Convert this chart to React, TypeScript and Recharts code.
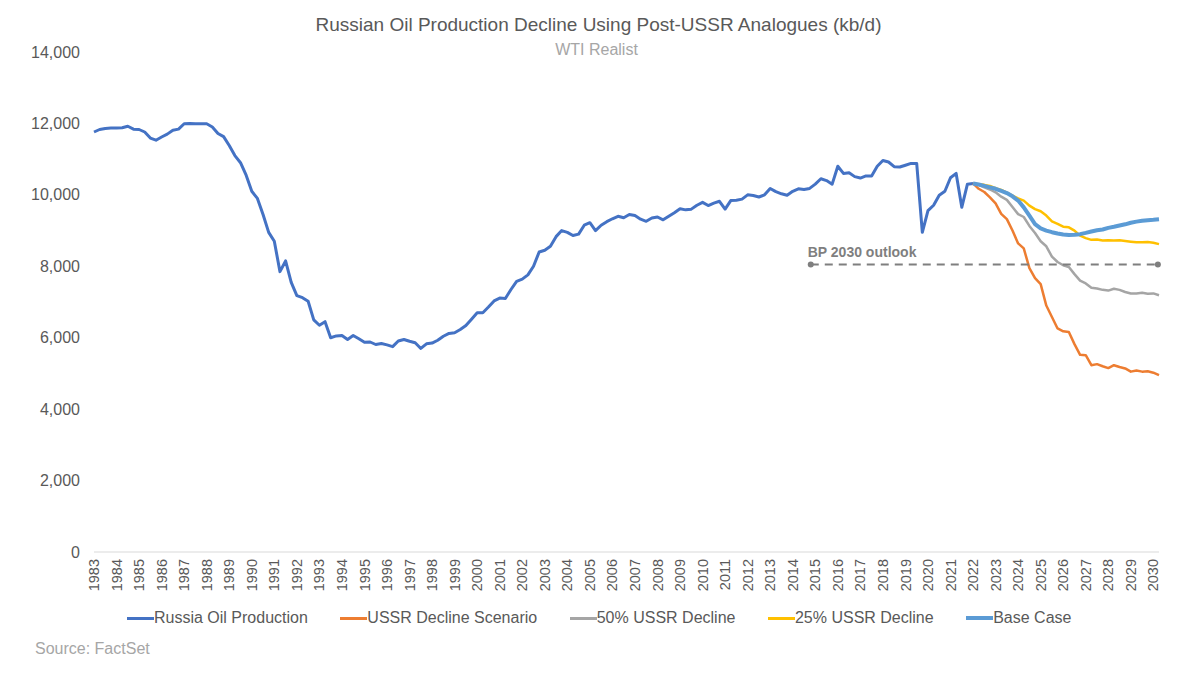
import React from "react";
import { LineChart, Line, XAxis, YAxis, LabelList } from "recharts";

// quarterly readings, kb/d
const russiaStart = 1983;
const scenarioStart = 2022;
const step = 0.25;

const russiaProduction = [
  11760, 11830, 11860, 11870, 11870, 11880, 11920, 11840, 11830, 11760, 11590, 11530,
  11620, 11700, 11810, 11840, 11990, 12000, 11990, 11990, 11990, 11900, 11720, 11630,
  11380, 11100, 10900, 10550, 10100, 9900, 9450, 8950, 8700, 7850, 8150, 7550,
  7180, 7120, 7020, 6500, 6350, 6450, 6000, 6050, 6060, 5950, 6060, 5970,
  5870, 5880, 5810, 5840, 5800, 5750, 5910, 5950, 5900, 5860, 5700, 5830,
  5850, 5930, 6040, 6120, 6140, 6230, 6340, 6520, 6700, 6700, 6860, 7030,
  7110, 7100, 7350, 7580, 7640, 7760, 8000, 8400, 8450, 8560, 8830, 9000,
  8950, 8860, 8900, 9150, 9220, 9000, 9150, 9250, 9330, 9400, 9360, 9450,
  9420, 9320, 9260, 9350, 9380, 9300, 9400, 9500, 9610, 9580, 9600, 9710,
  9790, 9700, 9770, 9820, 9600, 9840, 9850, 9880, 10000, 9980, 9940, 10000,
  10180, 10090, 10030, 9990, 10100, 10170, 10150, 10180, 10300, 10450, 10400, 10300,
  10800, 10600, 10620, 10510, 10470, 10530, 10530, 10800, 10960, 10920, 10790, 10780,
  10830, 10880, 10880, 8950, 9560, 9710, 9990, 10100, 10480, 10600, 9650, 10300,
  10320,
];

const ussrDecline = [
  10320, 10170, 10080, 9930, 9760, 9470, 9320, 9000, 8640, 8500, 7950, 7670,
  7500, 6900, 6580, 6260, 6180, 6160, 5820, 5520, 5510, 5230, 5260, 5200,
  5150, 5230, 5180, 5140, 5050, 5080, 5050, 5060, 5020, 4950,
];

const ussr50 = [
  10320, 10280, 10210, 10150, 10070, 9950, 9860, 9660, 9460, 9380, 9130, 8930,
  8700, 8560, 8270, 8120, 8030, 7980, 7780, 7600, 7520, 7400, 7380, 7340,
  7320, 7370, 7340, 7280, 7240, 7240, 7260, 7230, 7240, 7190,
];

const ussr25 = [
  10320, 10300, 10280, 10250, 10190, 10140, 10060, 9980, 9900, 9840, 9700, 9600,
  9540, 9420, 9260, 9190, 9110, 9090, 9000, 8860, 8790, 8740, 8750, 8720,
  8730, 8720, 8730, 8710, 8690, 8670, 8670, 8680, 8660, 8620,
];

const baseCase = [
  10320, 10290, 10250, 10210, 10170, 10110, 10050, 9960, 9840, 9650, 9420, 9180,
  9060, 9000, 8955, 8920, 8890, 8875, 8880, 8900, 8935, 8975, 9010, 9030,
  9075, 9105, 9140, 9175, 9220, 9250, 9275, 9290, 9300, 9315,
];

const bpYears = [2014.8, 2030.2];
const bpOutlook = 8050;

const yearTicks = Array.from({ length: 48 }, (_, i) => 1983 + i);
const valueTicks = [0, 2000, 4000, 6000, 8000, 10000, 12000, 14000];

const toPoints = (values: number[], start: number) =>
  values.map((v, i) => ({ t: start + i * step, v }));

const series = [
  { name: "Russia Oil Production", color: "#4472C4", width: 3, data: toPoints(russiaProduction, russiaStart) },
  { name: "USSR Decline Scenario", color: "#ED7D31", width: 2.5, data: toPoints(ussrDecline, scenarioStart) },
  { name: "50% USSR Decline", color: "#A5A5A5", width: 2.5, data: toPoints(ussr50, scenarioStart) },
  { name: "25% USSR Decline", color: "#FFC000", width: 2.5, data: toPoints(ussr25, scenarioStart) },
  { name: "Base Case", color: "#5B9BD5", width: 4, data: toPoints(baseCase, scenarioStart) },
];

const bpData = bpYears.map((t) => ({ t, v: bpOutlook }));

const FONT = "'Liberation Sans', Arial, sans-serif";
const TEXT = "#595959";

const XTick = ({ x, payload }: any) => (
  <text
    transform={`translate(${x},559) rotate(-90)`}
    textAnchor="end"
    dy="0.35em"
    fill={TEXT}
    fontSize={14.5}
    fontFamily={FONT}
  >
    {payload.value}
  </text>
);

const YTick = ({ y, payload }: any) => (
  <text x={80} y={y} dy="0.35em" textAnchor="end" fill={TEXT} fontSize={16} fontFamily={FONT}>
    {Number(payload.value).toLocaleString("en-US")}
  </text>
);

const BpLabel = (props: any) =>
  props.index === 0 ? (
    <text x={props.x - 3} y={props.y - 8} fill="#7f7f7f" fontSize={14} fontWeight="bold" fontFamily={FONT}>
      BP 2030 outlook
    </text>
  ) : null;

export default function App() {
  return (
    <div style={{ position: "absolute", left: 0, top: 0, width: 1181, height: 680, background: "#fff", fontFamily: FONT }}>
      <div style={{ position: "absolute", left: 8, top: 13, width: 1181, textAlign: "center", fontSize: 19, lineHeight: "24px", color: TEXT }}>
        Russian Oil Production Decline Using Post-USSR Analogues (kb/d)
      </div>
      <div style={{ position: "absolute", left: 6, top: 41, width: 1181, textAlign: "center", fontSize: 16, lineHeight: "18px", color: "#a6a6a6" }}>
        WTI Realist
      </div>

      <LineChart width={1181} height={680} margin={{ top: 52, right: 22, bottom: 0, left: 0 }}>
        <XAxis
          type="number"
          dataKey="t"
          domain={[1983, 2030.25]}
          ticks={yearTicks}
          interval={0}
          tick={<XTick />}
          tickLine={false}
          axisLine={{ stroke: "#d9d9d9" }}
          height={128}
        />
        <YAxis
          type="number"
          domain={[0, 14000]}
          ticks={valueTicks}
          tick={<YTick />}
          tickLine={false}
          axisLine={false}
          width={94}
        />
        {series.map((s) => (
          <Line
            key={s.name}
            data={s.data}
            dataKey="v"
            name={s.name}
            type="linear"
            stroke={s.color}
            strokeWidth={s.width}
            strokeLinejoin="round"
            dot={false}
            isAnimationActive={false}
          />
        ))}
        <Line
          data={bpData}
          dataKey="v"
          name="BP 2030 outlook"
          type="linear"
          stroke="#7f7f7f"
          strokeWidth={2}
          strokeDasharray="8 6"
          dot={{ r: 3, fill: "#7f7f7f", stroke: "none" }}
          isAnimationActive={false}
        >
          <LabelList dataKey="v" content={<BpLabel />} />
        </Line>
      </LineChart>

      <div style={{ position: "absolute", left: 127, top: 608, display: "flex", gap: 32.5, fontSize: 16, lineHeight: "20px", color: TEXT }}>
        {series.map((s) => (
          <div key={s.name} style={{ display: "flex", alignItems: "center" }}>
            <span style={{ display: "inline-block", width: 27, height: s.width > 3 ? 4 : 3, background: s.color }} />
            <span>{s.name}</span>
          </div>
        ))}
      </div>

      <div style={{ position: "absolute", left: 35, top: 640, fontSize: 16, lineHeight: "18px", color: "#a6a6a6" }}>
        Source: FactSet
      </div>
    </div>
  );
}
